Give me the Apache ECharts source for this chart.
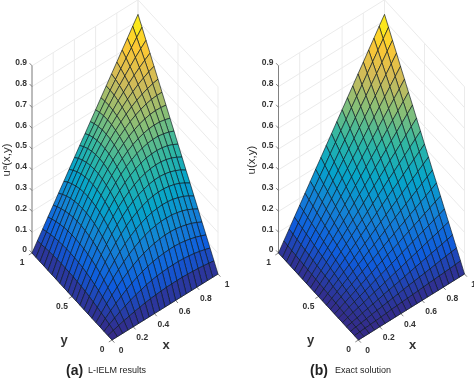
<!DOCTYPE html>
<html>
<head>
<meta charset="utf-8">
<style>html,body{margin:0;padding:0;background:#fff}#c{width:474px;height:379px}</style>
<script src="https://cdn.jsdelivr.net/npm/echarts@6/dist/echarts.min.js"></script>
</head>
<body>
<div id="c"></div>
<script>
// two surface panels: (a) network result, (b) exact solution
const meshX = [0, .05, .1, .15, .2, .25, .3, .35, .4, .45, .5, .55, .6, .65, .7, .75, .8, .85, .9, .95, 1];
const meshY = [0, .05, .1, .15, .2, .25, .3, .35, .4, .45, .5, .55, .6, .65, .7, .75, .8, .85, .9, .95, 1];
const xTicks = [0, 0.2, 0.4, 0.6, 0.8, 1];
const yTicks = [0, 0.5, 1];
const zTicks = [0, 0.1, 0.2, 0.3, 0.4, 0.5, 0.6, 0.7, 0.8, 0.9];
const zTop = 0.9;

// rows are y, columns are x
const uResult = [
  [0,0,0,0,0,0,0,0,0,0,0,0,0,0,0,0,0,0,0,0,0],
  [0,.009,.017,.024,.030,.036,.041,.046,.050,.053,.055,.057,.058,.058,.058,.057,.055,.053,.050,.046,.042],
  [0,.017,.032,.046,.058,.070,.080,.088,.096,.102,.107,.110,.112,.113,.113,.111,.108,.104,.098,.091,.083],
  [0,.024,.046,.066,.084,.100,.115,.128,.139,.148,.155,.160,.163,.165,.165,.163,.159,.153,.145,.136,.125],
  [0,.030,.058,.084,.107,.129,.147,.164,.178,.190,.199,.206,.211,.214,.214,.212,.207,.200,.191,.180,.166],
  [0,.036,.070,.100,.129,.154,.176,.196,.213,.228,.240,.249,.255,.259,.259,.258,.253,.246,.236,.223,.208],
  [0,.041,.080,.115,.147,.176,.203,.226,.246,.263,.277,.288,.296,.300,.302,.301,.297,.289,.279,.266,.249],
  [0,.046,.088,.128,.164,.196,.226,.252,.275,.294,.310,.323,.333,.339,.342,.342,.338,.331,.321,.307,.291],
  [0,.050,.096,.139,.178,.213,.246,.275,.300,.322,.340,.355,.366,.374,.379,.380,.377,.371,.361,.349,.332],
  [0,.053,.102,.148,.190,.228,.263,.294,.322,.346,.366,.383,.396,.406,.412,.415,.414,.409,.401,.389,.374],
  [0,.055,.107,.155,.199,.240,.277,.310,.340,.366,.389,.408,.423,.435,.443,.447,.448,.445,.439,.429,.415],
  [0,.057,.110,.160,.206,.249,.288,.323,.355,.383,.408,.429,.446,.460,.470,.477,.480,.480,.475,.468,.457],
  [0,.058,.112,.163,.211,.255,.296,.333,.366,.396,.423,.446,.466,.482,.495,.504,.510,.512,.511,.506,.498],
  [0,.058,.113,.165,.214,.259,.300,.339,.374,.406,.435,.460,.482,.501,.516,.528,.537,.543,.545,.544,.540],
  [0,.058,.113,.165,.214,.259,.302,.342,.379,.412,.443,.470,.495,.516,.535,.550,.562,.572,.578,.581,.581],
  [0,.057,.111,.163,.212,.258,.301,.342,.380,.415,.447,.477,.504,.528,.550,.569,.585,.598,.609,.617,.623],
  [0,.055,.108,.159,.207,.253,.297,.338,.377,.414,.448,.480,.510,.537,.562,.585,.605,.624,.639,.653,.664],
  [0,.053,.104,.153,.200,.246,.289,.331,.371,.409,.445,.480,.512,.543,.572,.598,.624,.647,.668,.688,.706],
  [0,.050,.098,.145,.191,.236,.279,.321,.361,.401,.439,.475,.511,.545,.578,.609,.639,.668,.696,.722,.747],
  [0,.046,.091,.136,.180,.223,.266,.307,.349,.389,.429,.468,.506,.544,.581,.617,.653,.688,.722,.756,.789],
  [0,.042,.083,.125,.166,.208,.249,.291,.332,.374,.415,.457,.498,.540,.581,.623,.664,.706,.747,.789,.830]
];
const uExact = [
  [0,0,0,0,0,0,0,0,0,0,0,0,0,0,0,0,0,0,0,0,0],
  [0,.002,.004,.006,.008,.010,.012,.015,.017,.019,.021,.023,.025,.027,.029,.031,.033,.035,.037,.039,.042],
  [0,.004,.008,.012,.017,.021,.025,.029,.033,.037,.042,.046,.050,.054,.058,.062,.066,.071,.075,.079,.083],
  [0,.006,.012,.019,.025,.031,.037,.044,.050,.056,.062,.068,.075,.081,.087,.093,.100,.106,.112,.118,.125],
  [0,.008,.017,.025,.033,.042,.050,.058,.066,.075,.083,.091,.100,.108,.116,.125,.133,.141,.149,.158,.166],
  [0,.010,.021,.031,.042,.052,.062,.073,.083,.093,.104,.114,.125,.135,.145,.156,.166,.176,.187,.197,.208],
  [0,.012,.025,.037,.050,.062,.075,.087,.100,.112,.125,.137,.149,.162,.174,.187,.199,.212,.224,.237,.249],
  [0,.015,.029,.044,.058,.073,.087,.102,.116,.131,.145,.160,.174,.189,.203,.218,.232,.247,.261,.276,.291],
  [0,.017,.033,.050,.066,.083,.100,.116,.133,.149,.166,.183,.199,.216,.232,.249,.266,.282,.299,.315,.332],
  [0,.019,.037,.056,.075,.093,.112,.131,.149,.168,.187,.205,.224,.243,.261,.280,.299,.317,.336,.355,.374],
  [0,.021,.042,.062,.083,.104,.125,.145,.166,.187,.208,.228,.249,.270,.291,.311,.332,.353,.374,.394,.415],
  [0,.023,.046,.068,.091,.114,.137,.160,.183,.205,.228,.251,.274,.297,.320,.342,.365,.388,.411,.434,.457],
  [0,.025,.050,.075,.100,.125,.149,.174,.199,.224,.249,.274,.299,.324,.349,.374,.398,.423,.448,.473,.498],
  [0,.027,.054,.081,.108,.135,.162,.189,.216,.243,.270,.297,.324,.351,.378,.405,.432,.459,.486,.513,.540],
  [0,.029,.058,.087,.116,.145,.174,.203,.232,.261,.291,.320,.349,.378,.407,.436,.465,.494,.523,.552,.581],
  [0,.031,.062,.093,.125,.156,.187,.218,.249,.280,.311,.342,.374,.405,.436,.467,.498,.529,.560,.591,.623],
  [0,.033,.066,.100,.133,.166,.199,.232,.266,.299,.332,.365,.398,.432,.465,.498,.531,.564,.598,.631,.664],
  [0,.035,.071,.106,.141,.176,.212,.247,.282,.317,.353,.388,.423,.459,.494,.529,.564,.600,.635,.670,.706],
  [0,.037,.075,.112,.149,.187,.224,.261,.299,.336,.374,.411,.448,.486,.523,.560,.598,.635,.672,.710,.747],
  [0,.039,.079,.118,.158,.197,.237,.276,.315,.355,.394,.434,.473,.513,.552,.591,.631,.670,.710,.749,.789],
  [0,.042,.083,.125,.166,.208,.249,.291,.332,.374,.415,.457,.498,.540,.581,.623,.664,.706,.747,.789,.830]
];
const parula = ['#352a87','#0f5cdd','#1481d6','#06a4ca','#2eb7a4','#87bf77','#d1bb59','#fec832','#f9fb0e'];

const FONT = '"Liberation Sans", Arial, sans-serif';
const INK = '#333';

// view: plot box corner (0,0,0) is the plane origin
function project(x, y, z) {
  return [106 * x - 80 * y, 66 * x + 87 * y + 208 * z];
}

function hex(c) { return [1, 3, 5].map(i => parseInt(c.substr(i, 2), 16)); }
function colorOf(t) {
  const p = Math.max(0, Math.min(0.9999, t)) * (parula.length - 1);
  const i = Math.floor(p), f = p - i;
  const a = hex(parula[i]), b = hex(parula[i + 1]);
  return 'rgb(' + a.map((v, k) => Math.round(v + (b[k] - v) * f)).join(',') + ')';
}

function guideSegments() {
  const s = [];
  zTicks.forEach(z => {
    s.push([[0, 1, z], [1, 1, z]]);
    s.push([[1, 1, z], [1, 0, z]]);
  });
  xTicks.forEach(x => {
    s.push([[x, 1, 0], [x, 1, zTop]]);
    s.push([[x, 0, 0], [x, 1, 0]]);
  });
  yTicks.forEach(y => {
    s.push([[1, y, 0], [1, y, zTop]]);
    s.push([[0, y, 0], [1, y, 0]]);
  });
  return s;
}

function axisSegments() {
  const s = [[[0, 1, 0], [0, 1, zTop]], [[0, 0, 0], [1, 0, 0]], [[0, 0, 0], [0, 1, 0]]];
  zTicks.forEach(z => s.push([[0, 1, z], [0, 1.03, z]]));
  xTicks.forEach(x => s.push([[x, 0, 0], [x, -0.03, 0]]));
  yTicks.forEach(y => s.push([[0, y, 0], [-0.03, y, 0]]));
  return s;
}

function lineSeries(panel, segs, color, width) {
  return {
    type: 'custom', xAxisIndex: panel, yAxisIndex: panel, silent: true, clip: false,
    data: segs.map((_, i) => i),
    renderItem(params, api) {
      const seg = segs[params.dataIndex];
      const a = api.coord(project(seg[0][0], seg[0][1], seg[0][2]));
      const b = api.coord(project(seg[1][0], seg[1][1], seg[1][2]));
      return { type: 'line', shape: { x1: a[0], y1: a[1], x2: b[0], y2: b[1] }, style: { stroke: color, lineWidth: width } };
    }
  };
}

function surfaceSeries(panel, u) {
  // far cells first so near cells paint over them
  const cells = [];
  for (let j = meshY.length - 2; j >= 0; j--) {
    for (let i = meshX.length - 2; i >= 0; i--) cells.push([i, j]);
  }
  cells.sort((p, q) => (q[0] + q[1]) - (p[0] + p[1]));
  return {
    type: 'custom', xAxisIndex: panel, yAxisIndex: panel, silent: true, clip: false,
    data: cells.map((_, i) => i),
    renderItem(params, api) {
      const [i, j] = cells[params.dataIndex];
      const corners = [[i, j], [i + 1, j], [i + 1, j + 1], [i, j + 1]];
      const pts = corners.map(c => api.coord(project(meshX[c[0]], meshY[c[1]], u[c[1]][c[0]])));
      const mean = corners.reduce((t, c) => t + u[c[1]][c[0]], 0) / 4;
      return { type: 'polygon', shape: { points: pts }, style: { fill: colorOf(mean / 0.83), stroke: 'rgba(10,20,30,0.85)', lineWidth: 0.75 } };
    }
  };
}

function labelSeries(panel) {
  const items = [];
  zTicks.forEach(z => items.push({ at: [0, 1, z], text: String(z), dx: -5, dy: -3, align: 'right' }));
  xTicks.forEach(x => items.push({ at: [x, 0, 0], text: String(x), dx: 9, dy: 11, align: 'center' }));
  yTicks.forEach(y => items.push({ at: [0, y, 0], text: String(y), dx: -10, dy: 10, align: 'center' }));
  items.push({ at: [0.5, 0, 0], text: 'x', dx: 1, dy: 38, align: 'center', bold: true });
  items.push({ at: [0, 0.5, 0], text: 'y', dx: -8, dy: 44, align: 'center', bold: true });
  return {
    type: 'custom', xAxisIndex: panel, yAxisIndex: panel, silent: true, clip: false,
    data: items.map((_, i) => i),
    renderItem(params, api) {
      const it = items[params.dataIndex];
      const p = api.coord(project(it.at[0], it.at[1], it.at[2]));
      return {
        type: 'text', x: p[0] + it.dx, y: p[1] + it.dy,
        style: {
          text: it.text, fill: INK, textAlign: it.align, textVerticalAlign: 'middle',
          font: (it.bold ? 'bold 13px ' : 'bold 8.5px ') + FONT
        }
      };
    }
  };
}

const SHIFT = 246.5;
const grids = [
  { left: 0, top: 0, width: 237, height: 379 },
  { left: SHIFT, top: 0, width: 227.5, height: 379 }
];
const planeX = [{ min: -112, max: 125 }, { min: -112, max: 115.5 }];
const planeY = { min: -39, max: 340 };

const chart = echarts.init(document.getElementById('c'), null, { renderer: 'canvas' });
const series = [];
[uResult, uExact].forEach((u, panel) => {
  series.push(lineSeries(panel, guideSegments(), '#ebebeb', 1));
  series.push(lineSeries(panel, axisSegments(), '#666', 0.8));
  series.push(surfaceSeries(panel, u));
  series.push(labelSeries(panel));
});

function caption(left, top, text, size) {
  return { type: 'text', x: left, y: top, style: { text, fill: '#222', font: size + ' ' + FONT, textVerticalAlign: 'middle' } };
}
function sideName(x, y, text) {
  return { type: 'text', x, y, rotation: Math.PI / 2, style: { text, fill: INK, font: '11.5px ' + FONT, textAlign: 'center', textVerticalAlign: 'middle' } };
}

chart.setOption({
  animation: false,
  backgroundColor: '#fff',
  grid: grids,
  xAxis: planeX.map((r, i) => ({ type: 'value', gridIndex: i, min: r.min, max: r.max, show: false })),
  yAxis: grids.map((g, i) => ({ type: 'value', gridIndex: i, min: planeY.min, max: planeY.max, show: false })),
  series,
  graphic: [
    sideName(7, 160, 'uᵃ(x,y)'),
    sideName(252, 160, 'u(x,y)'),
    caption(66, 371, '(a)', 'bold 14px'),
    caption(88, 371, 'L-IELM results', '9px'),
    caption(310, 371, '(b)', 'bold 14px'),
    caption(335, 371, 'Exact solution', '9px')
  ]
});
</script>
</body>
</html>
